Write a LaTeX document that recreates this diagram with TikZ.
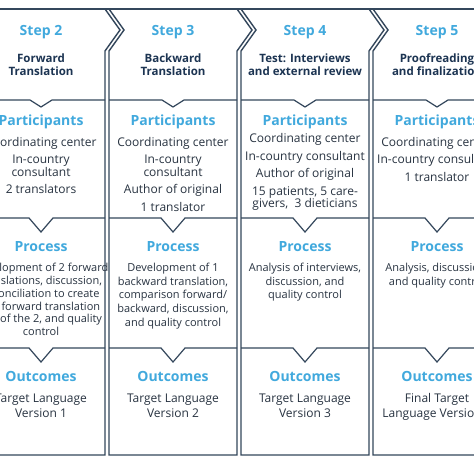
\documentclass[tikz,border=0pt]{standalone}
\usepackage{fontspec}
\setmainfont{Open Sans}
\usetikzlibrary{positioning,calc}
\definecolor{lineC}{HTML}{34475C}
\definecolor{stepC}{HTML}{41A9DD}
\definecolor{titleC}{HTML}{1C3452}
\definecolor{bodyC}{HTML}{283341}

\begin{document}
\begin{tikzpicture}[
  x=1pt,y=-1pt,
  colframe/.style={draw=lineC,line width=1.4pt,line join=miter},
  sepline/.style={draw=lineC,line width=1.2pt},
  stepnum/.style={font=\bfseries\fontsize{14}{16}\selectfont,text=stepC,inner sep=0pt},
  steptitle/.style={font=\bfseries\fontsize{11.5}{13}\selectfont,text=titleC,align=center,inner sep=0pt},
  secthead/.style={font=\bfseries\fontsize{14}{16}\selectfont,text=stepC,inner sep=0pt},
  partbox/.style={font=\fontsize{12}{12.5}\selectfont,text=bodyC,align=center,inner sep=0pt,anchor=north},
  procbox/.style={font=\fontsize{11}{13.6}\selectfont,text=bodyC,align=center,inner sep=0pt,anchor=north},
  outbox/.style={font=\fontsize{12}{15}\selectfont,text=bodyC,align=center,inner sep=0pt,anchor=north}
]
\useasboundingbox (0,0) rectangle (474,474);
\clip (0,0) rectangle (474,474);
\fill[white] (0,0) rectangle (474,474);

% ── Colunas (cabeçalho em seta + três separadores com entalhe) ───────────────
\draw[sepline] (0,9) -- (474,9);
\foreach \cx in {41,173,305,437}{
  \draw[colframe] (\cx-64,9) -- (\cx+64,9) -- (\cx+79,30) -- (\cx+64,51)
    -- (\cx+64,455) -- (\cx-64,455) -- (\cx-64,51) -- (\cx-49,30) -- cycle;
  \draw[sepline] (\cx-64,100) -- (\cx-11,100) -- (\cx,107) -- (\cx+11,100) -- (\cx+64,100);
  \draw[sepline] (\cx-64,218) -- (\cx-12,218) -- (\cx,232) -- (\cx+12,218) -- (\cx+64,218);
  \draw[sepline] (\cx-64,348) -- (\cx-12,348) -- (\cx,362) -- (\cx+12,348) -- (\cx+64,348);
}

% ── Step 2 ───────────────────────────────────────────────────────────────────
\node[stepnum] (st2) at (41,32) {Step 2};
\node[steptitle] (ti2) at (41,65) {Forward\\Translation};
\node[secthead] (pa2) at (41,122) {Participants};
\node[partbox] (pl2) at (41,137)
  {Coordinating center\\[5pt]In-country\\consultant\\[5pt]2 translators};
\node[secthead] (pr2) at (41,247) {Process};
\node[procbox,font=\fontsize{11}{12.8}\selectfont] (pt2) at (41,263)
  {Development of 2 forward\\translations, discussion,\\reconciliation to create\\the forward translation\\out of the 2, and quality\\control};
\node[secthead] (ou2) at (41,376) {Outcomes};
\node[outbox] (ot2) at (41,393.5) {Target Language\\Version 1};

% ── Step 3 ───────────────────────────────────────────────────────────────────
\node[stepnum] (st3) at (173,32) {Step 3};
\node[steptitle] (ti3) at (173,65) {Backward\\Translation};
\node[secthead] (pa3) at (173,122) {Participants};
\node[partbox] (pl3) at (173,137)
  {Coordinating center\\[5pt]In-country\\consultant\\[5pt]Author of original\\[5pt]1 translator};
\node[secthead] (pr3) at (173,247) {Process};
\node[procbox] (pt3) at (173,263)
  {Development of 1\\backward translation,\\comparison forward/\\backward, discussion,\\and quality control};
\node[secthead] (ou3) at (173,376) {Outcomes};
\node[outbox] (ot3) at (173,393.5) {Target Language\\Version 2};

% ── Step 4 ───────────────────────────────────────────────────────────────────
\node[stepnum] (st4) at (305,32) {Step 4};
\node[steptitle] (ti4) at (305,65) {Test: Interviews\\and external review};
\node[secthead] (pa4) at (305,122) {Participants};
\node[partbox] (pl4) at (305,133.5)
  {Coordinating center\\[5pt]In-country consultant\\[5pt]Author of original\\[5pt]15 patients, 5 care-\\givers,~ 3 dieticians};
\node[secthead] (pr4) at (305,247) {Process};
\node[procbox] (pt4) at (305,263)
  {Analysis of interviews,\\discussion, and\\quality control};
\node[secthead] (ou4) at (305,376) {Outcomes};
\node[outbox] (ot4) at (305,393.5) {Target Language\\Version 3};

% ── Step 5 ───────────────────────────────────────────────────────────────────
\node[stepnum] (st5) at (437,32) {Step 5};
\node[steptitle] (ti5) at (437,65) {Proofreading\\and finalization};
\node[secthead] (pa5) at (437,122) {Participants};
\node[partbox] (pl5) at (437,137)
  {Coordinating center\\[5pt]In-country consultant\\[5pt]1 translator};
\node[secthead] (pr5) at (437,247) {Process};
\node[procbox] (pt5) at (437,263)
  {Analysis, discussion,\\and quality control};
\node[secthead] (ou5) at (437,376) {Outcomes};
\node[outbox] (ot5) at (437,393.5) {Final Target\\Language Version 4};
\end{tikzpicture}
\end{document}
